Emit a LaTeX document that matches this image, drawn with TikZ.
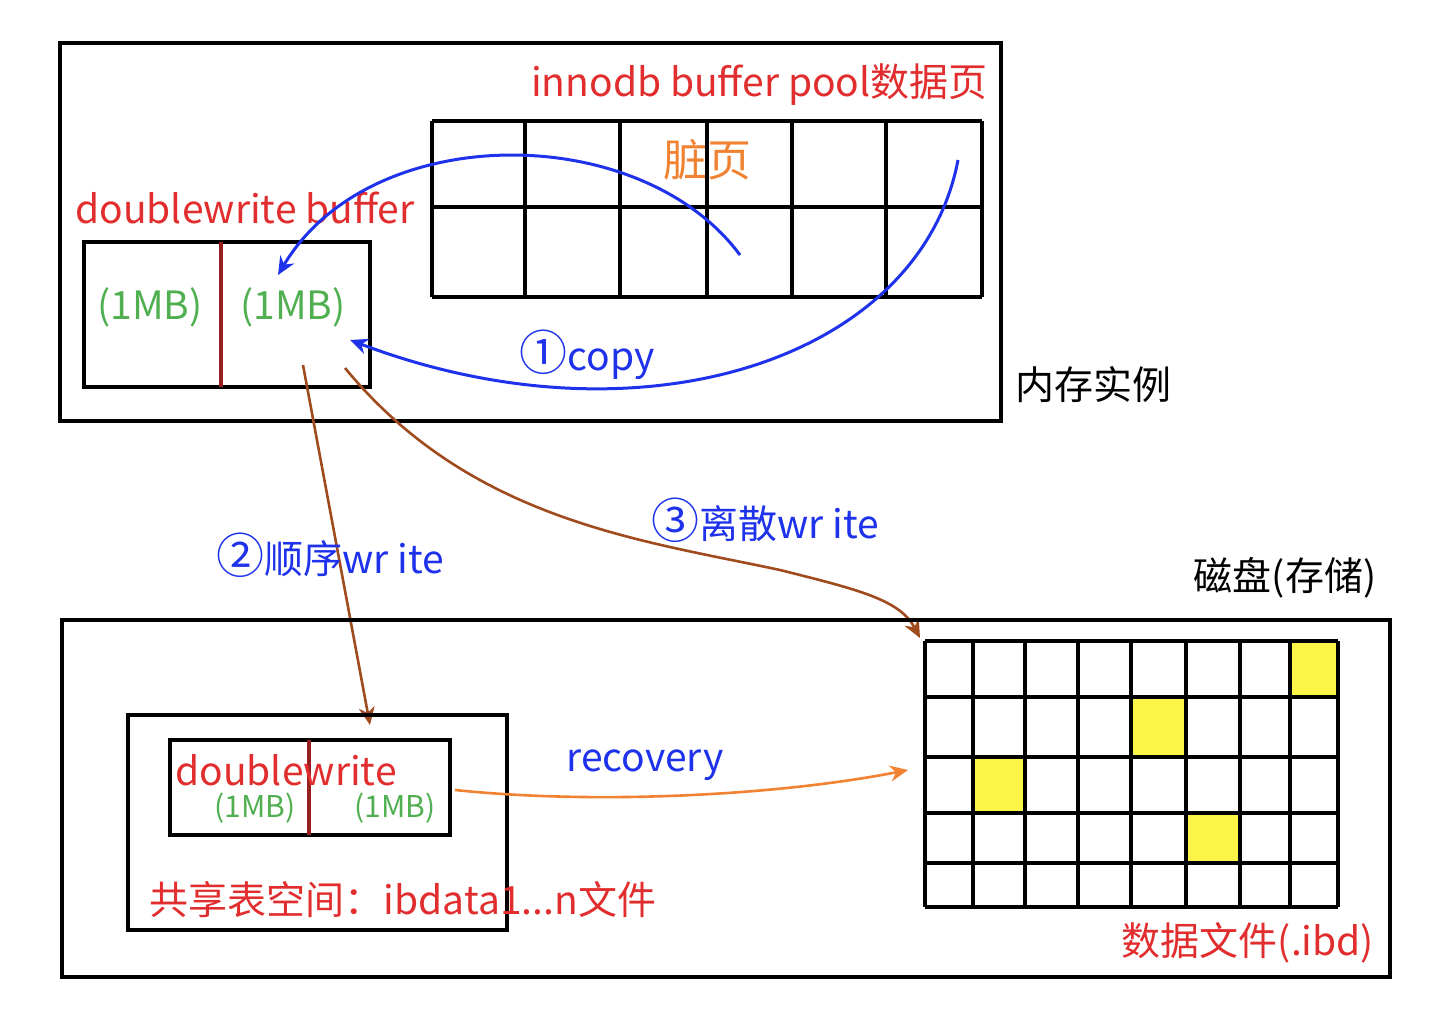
\documentclass[tikz,border=0pt]{standalone}
\usepackage{fontspec}
\setmainfont{Noto Sans CJK SC}
\usetikzlibrary{arrows.meta}
\definecolor{tred}{RGB}{225,45,45}
\definecolor{tgreen}{RGB}{80,175,80}
\definecolor{tblue}{RGB}{30,50,235}
\definecolor{tbrown}{RGB}{160,75,30}
\definecolor{torange}{RGB}{240,130,50}
\definecolor{tdark}{RGB}{150,30,30}
\definecolor{tyellow}{RGB}{250,245,70}
\tikzset{
  box/.style={draw=black,line width=2pt},
  lbl/.style={inner sep=0pt,font=\fontsize{19.5}{21}\selectfont},
  small/.style={inner sep=0pt,font=\fontsize{15}{17}\selectfont},
  blue arr/.style={draw=tblue,line width=1.5pt,-{Stealth[length=9pt,width=8pt]}},
  brown arr/.style={draw=tbrown,line width=1.3pt,-{Stealth[length=9pt,width=8pt]}},
}
\newcommand{\circnum}[1]{{\fontsize{24}{24}\selectfont #1}}
\begin{document}
\begin{tikzpicture}[x=0.5pt,y=-0.5pt]
\useasboundingbox (0,0) rectangle (1454,1012);
% memory box
\draw[box] (60,43) rectangle (1001,421);
\node[lbl,text=tred,anchor=east] (pooltxt) at (988,85) {innodb buffer pool数据页};
% buffer pool grid
\foreach \x in {432,525,620,707,792,886,982} \draw[box] (\x,121) -- (\x,297);
\foreach \y in {121,207,297} \draw[box] (432,\y) -- (982,\y);
\node[lbl,text=torange,font=\fontsize{22}{24}\selectfont] (dirty) at (707,160) {脏页};
\node[lbl,text=tred] (dwbtxt) at (245,208) {doublewrite buffer};
\draw[box] (84,242) rectangle (370,387);
\draw[draw=tdark,line width=2pt] (221,242) -- (221,387);
\node[lbl,text=tgreen] (m1) at (150,307) {(1MB)};
\node[lbl,text=tgreen] (m2) at (293,307) {(1MB)};
\node[lbl,text=black] (mem) at (1093,385) {内存实例};
\node[lbl,text=tblue] (copy) at (587,355) {\circnum{①}copy};
% blue arrows
\coordinate (b1s) at (740,255);
\coordinate (b1e) at (278,275);
\coordinate (b2s) at (958,160);
\coordinate (b2e) at (350,340);
\draw[blue arr] (b1s) .. controls (640,120) and (370,120) .. (b1e);
\draw[blue arr] (b2s) .. controls (920,360) and (640,450) .. (b2e);
% brown arrows
\coordinate (r1s) at (303,365);
\coordinate (r1e) at (370,725);
\coordinate (r2s) at (345,368);
\coordinate (r2e) at (920,638);
\draw[brown arr] (r1s) -- (r1e);
\draw[brown arr] (r2s) .. controls (470,520) and (640,540) .. (780,570) .. controls (860,590) and (900,600) .. (r2e);
\node[lbl,text=tblue] (w2) at (330,555) {\circnum{②}顺序wr ite};
\node[lbl,text=tblue] (w3) at (765,520) {\circnum{③}离散wr ite};
\node[lbl,text=black] (disk) at (1285,578) {磁盘(存储)};
% disk box
\draw[box] (62,620) rectangle (1390,977);
\draw[box] (128,715) rectangle (507,930);
\draw[box] (170,740) rectangle (450,835);
\draw[draw=tdark,line width=2pt] (309,740) -- (309,835);
\node[lbl,text=tred] (dw) at (286,770) {doublewrite};
\node[small,text=tgreen] (s1) at (255,808) {(1MB)};
\node[small,text=tgreen] (s2) at (395,808) {(1MB)};
\node[lbl,text=tred] (shared) at (403,900) {共享表空间：ibdata1...n文件};
\coordinate (os) at (455,790);
\coordinate (oe) at (908,770);
\draw[draw=torange,line width=1.3pt,-{Stealth[length=9pt,width=8pt]}] (os) .. controls (600,805) and (780,795) .. (oe);
\node[lbl,text=tblue] (rec) at (645,765) {recovery};
% disk grid
\fill[tyellow] (1290,641) rectangle (1338,697);
\fill[tyellow] (1131,697) rectangle (1186,757);
\fill[tyellow] (973,757) rectangle (1025,813);
\fill[tyellow] (1186,813) rectangle (1240,863);
\foreach \x in {925,973,1025,1078,1131,1186,1240,1290,1338} \draw[box] (\x,641) -- (\x,907);
\foreach \y in {641,697,757,813,863,907} \draw[box] (925,\y) -- (1338,\y);
\node[lbl,text=tred] (ibd) at (1248,943) {数据文件(.ibd)};
\end{tikzpicture}
\end{document}
